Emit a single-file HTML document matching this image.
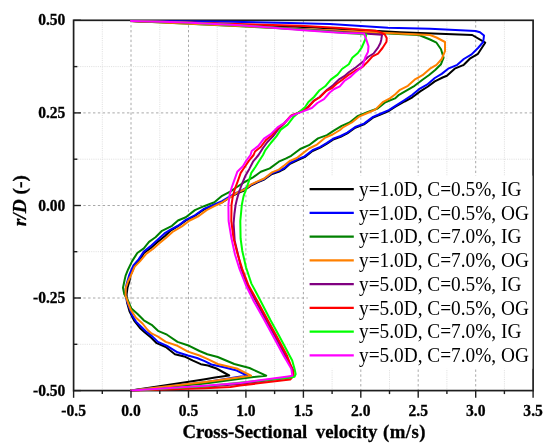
<!DOCTYPE html><html><head><meta charset="utf-8"><title>Cross-Sectional velocity</title>
<style>html,body{margin:0;padding:0;background:#fff}body{width:550px;height:447px;overflow:hidden}svg{display:block}text{font-family:"Liberation Serif",serif;fill:#000}.b{font-weight:bold;stroke:#000;stroke-width:0.3px}</style></head><body>
<svg width="550" height="447" viewBox="0 0 550 447">
<rect width="550" height="447" fill="#fff"/>
<style>.mj{stroke:#a8a8a8;stroke-width:1;stroke-dasharray:2.4 2.45}.mn{stroke:#e0e0e0;stroke-width:1;stroke-dasharray:1.1 1.1}.c{fill:none;stroke-width:2.0;stroke-linejoin:round;stroke-linecap:round}.ax{stroke:#1e1e1e;stroke-width:1.7;fill:none}.tk{stroke:#1e1e1e;stroke-width:1.4}</style>
<g><line x1="131.0" y1="20.3" x2="131.0" y2="390.6" class="mj"/><line x1="188.5" y1="20.3" x2="188.5" y2="390.6" class="mj"/><line x1="245.9" y1="20.3" x2="245.9" y2="390.6" class="mj"/><line x1="303.4" y1="20.3" x2="303.4" y2="390.6" class="mj"/><line x1="360.8" y1="20.3" x2="360.8" y2="390.6" class="mj"/><line x1="418.2" y1="20.3" x2="418.2" y2="390.6" class="mj"/><line x1="475.7" y1="20.3" x2="475.7" y2="390.6" class="mj"/><line x1="102.3" y1="20.3" x2="102.3" y2="390.6" class="mn"/><line x1="159.8" y1="20.3" x2="159.8" y2="390.6" class="mn"/><line x1="217.2" y1="20.3" x2="217.2" y2="390.6" class="mn"/><line x1="274.6" y1="20.3" x2="274.6" y2="390.6" class="mn"/><line x1="332.1" y1="20.3" x2="332.1" y2="390.6" class="mn"/><line x1="389.5" y1="20.3" x2="389.5" y2="390.6" class="mn"/><line x1="446.9" y1="20.3" x2="446.9" y2="390.6" class="mn"/><line x1="504.4" y1="20.3" x2="504.4" y2="390.6" class="mn"/><line x1="73.6" y1="112.9" x2="533.1" y2="112.9" class="mj"/><line x1="73.6" y1="205.5" x2="533.1" y2="205.5" class="mj"/><line x1="73.6" y1="298.0" x2="533.1" y2="298.0" class="mj"/><line x1="73.6" y1="66.6" x2="533.1" y2="66.6" class="mn"/><line x1="73.6" y1="159.2" x2="533.1" y2="159.2" class="mn"/><line x1="73.6" y1="251.7" x2="533.1" y2="251.7" class="mn"/><line x1="73.6" y1="344.3" x2="533.1" y2="344.3" class="mn"/></g>
<rect x="73.6" y="20.3" width="459.5" height="370.3" class="ax"/>
<polyline class="c" stroke="#000000" points="131.0,20.9 310.0,27.3 400.0,32.2 472.2,35.0 485.2,42.7 478.0,53.8 470.3,58.3 463.8,64.8 454.7,68.7 446.9,75.8 442.6,77.5 434.8,81.4 428.0,86.5 420.2,91.4 412.4,97.3 404.6,101.5 395.0,107.0 388.8,111.0 379.8,114.8 373.0,117.7 364.0,124.4 355.2,127.8 347.3,133.4 340.6,136.8 333.8,139.2 327.0,143.7 320.3,147.6 312.5,151.0 304.6,157.2 296.8,160.5 290.0,163.8 284.5,168.8 280.0,171.2 272.0,174.0 264.2,179.5 257.5,182.3 250.8,185.7 244.0,190.5 237.3,193.3 230.6,196.9 222.1,202.3 213.0,205.7 204.0,209.5 195.0,215.8 186.0,220.4 178.0,226.2 170.2,231.0 165.0,236.0 157.0,242.5 150.5,248.3 144.0,253.0 139.5,260.5 134.3,266.3 130.5,275.3 129.5,281.0 127.5,287.8 126.6,294.3 126.9,302.0 129.5,311.2 134.0,320.3 139.9,328.0 144.3,332.0 151.0,337.5 156.7,343.2 165.8,347.0 174.9,354.2 185.3,356.8 193.0,360.7 200.8,364.2 208.0,365.5 216.5,368.5 229.2,375.5 215.0,377.6 205.0,379.3 184.0,382.6 131.0,390.5"/>
<polyline class="c" stroke="#0000ff" points="131.0,20.9 230.0,21.8 290.0,23.0 330.0,24.1 388.0,27.8 430.0,28.8 475.5,31.0 480.0,32.3 484.0,35.6 483.2,42.0 478.0,48.0 471.6,54.4 463.8,59.0 457.3,64.8 448.2,68.7 441.7,73.9 434.8,78.0 427.0,84.7 419.0,89.2 412.4,94.8 404.6,100.0 395.0,106.2 388.8,110.2 379.8,114.0 373.0,116.9 364.0,123.6 355.2,127.0 347.3,132.6 340.6,136.0 333.8,138.4 327.0,142.9 320.3,146.8 312.5,150.2 304.6,156.4 296.8,159.7 290.0,163.0 284.5,168.0 280.0,170.4 272.0,173.3 264.0,179.0 257.5,181.8 250.8,185.0 241.8,190.3 233.0,194.5 230.0,196.3 222.1,201.2 213.0,205.0 204.0,208.8 194.9,215.3 185.8,219.9 178.5,225.5 170.6,229.6 164.5,233.4 156.8,240.6 150.3,246.4 143.8,251.6 138.6,259.4 133.4,265.3 129.5,274.4 126.9,283.0 125.6,289.0 125.4,295.0 127.5,303.0 132.0,315.0 136.0,321.6 141.2,326.8 146.0,331.5 151.5,335.6 158.0,341.9 167.0,345.8 177.5,352.3 187.9,355.5 197.0,358.0 204.7,361.2 211.4,364.5 224.0,367.3 236.8,370.5 247.0,375.5 205.0,382.2 131.0,390.5"/>
<polyline class="c" stroke="#008000" points="131.0,20.9 419.0,35.0 430.0,39.5 436.5,42.7 441.0,49.2 443.6,57.7 441.0,64.2 435.2,70.0 428.8,75.3 422.5,79.7 414.6,85.8 406.8,90.3 399.0,94.8 395.0,98.4 385.4,102.3 377.6,108.5 368.6,111.8 357.4,116.3 349.6,122.5 341.7,125.8 333.8,130.6 327.0,135.1 318.0,138.4 309.0,145.2 300.2,149.0 291.2,155.8 285.6,158.6 278.8,161.7 269.8,168.4 260.8,171.8 253.0,177.4 244.0,182.4 236.2,187.5 230.6,191.4 222.1,195.8 214.4,202.3 204.0,206.2 194.9,210.1 185.8,217.3 178.0,220.5 172.0,225.8 162.0,230.8 155.5,237.3 149.0,241.9 143.8,248.4 137.3,253.0 132.0,261.4 128.2,269.2 125.6,275.6 124.6,280.0 123.0,287.8 124.3,294.3 127.5,299.5 131.4,308.6 137.3,313.8 143.8,320.3 151.6,324.8 158.0,330.8 167.0,334.7 177.5,341.9 189.2,345.8 199.5,351.0 207.3,354.2 217.7,357.0 234.3,364.0 249.5,368.0 266.2,375.7 249.5,377.6 205.0,383.4 131.0,390.5"/>
<polyline class="c" stroke="#ff8000" points="131.0,20.9 430.0,35.0 436.5,37.5 445.0,42.0 445.0,51.2 441.7,59.0 436.5,64.8 430.0,68.7 422.5,75.2 414.6,79.7 407.9,85.8 400.0,89.8 395.0,94.5 389.9,98.4 383.2,101.8 375.3,109.6 367.5,113.0 359.6,116.3 351.8,122.5 342.8,127.5 340.0,130.0 332.6,134.5 324.8,137.9 317.0,144.6 309.0,148.5 302.4,153.6 296.8,158.0 290.0,160.8 284.5,165.3 278.8,169.6 272.0,172.4 264.2,178.5 257.5,181.3 250.8,184.7 244.0,189.7 237.3,192.5 230.6,197.0 225.0,200.5 222.1,202.5 214.4,206.2 206.6,210.1 198.8,216.0 189.7,220.5 181.9,226.4 172.5,232.0 165.8,238.0 159.4,243.2 152.9,249.0 146.4,253.6 139.9,261.4 134.7,266.6 130.8,275.6 128.0,281.5 125.8,287.8 125.6,295.6 128.2,303.4 130.8,309.9 136.0,317.7 142.5,323.5 147.7,330.0 151.5,333.4 158.0,336.7 165.8,341.9 177.5,345.8 187.9,351.6 199.5,355.5 207.3,358.8 217.7,364.0 236.8,368.5 251.0,375.7 205.0,382.0 131.0,390.5"/>
<polyline class="c" stroke="#800080" points="131.0,20.9 180.0,22.1 240.0,25.0 320.0,30.5 382.0,34.8 381.2,40.0 380.4,43.0 378.0,47.6 373.6,53.5 368.0,57.0 364.0,60.8 356.0,67.2 348.8,72.3 344.3,76.2 338.7,79.6 333.0,85.2 326.4,90.4 319.6,97.0 314.0,100.5 308.4,106.5 305.0,109.5 297.6,113.2 291.0,116.0 284.5,123.2 278.6,129.0 273.0,136.4 267.4,142.0 263.0,148.0 258.5,155.0 253.0,161.7 249.6,168.4 245.7,175.2 242.4,183.0 239.0,192.0 236.8,199.8 235.6,205.0 234.4,214.0 233.6,223.3 234.7,240.7 238.4,256.0 241.3,269.0 247.5,285.5 255.5,300.5 266.0,320.0 274.8,336.0 285.5,356.0 289.8,364.0 293.2,370.0 293.5,375.0 291.0,377.5 240.0,384.0 205.0,386.8 131.0,390.5"/>
<polyline class="c" stroke="#ff0000" points="131.0,20.9 300.0,25.8 340.0,28.1 375.5,30.8 379.5,31.9 384.8,34.5 386.7,38.0 386.5,41.8 382.5,48.0 378.0,53.6 372.5,56.4 367.4,62.0 362.4,67.0 355.5,70.5 348.5,75.0 342.0,80.0 336.4,84.0 332.0,88.0 326.4,90.8 319.6,97.5 314.0,100.9 308.4,107.0 305.0,109.5 298.0,113.0 291.0,115.6 284.5,123.0 277.5,128.5 271.9,135.2 266.3,139.7 260.7,147.0 255.0,151.5 253.6,155.0 249.0,160.6 245.2,166.2 240.7,172.9 237.9,180.8 235.0,188.6 232.8,196.4 231.5,205.0 231.3,221.0 233.6,238.5 237.7,254.5 242.3,269.0 248.6,285.5 256.8,300.0 267.7,320.0 276.5,336.0 287.2,356.0 291.8,368.0 293.3,374.0 293.0,376.4 290.2,379.6 283.6,380.2 240.0,385.6 230.5,387.0 205.0,388.3 131.0,390.5"/>
<polyline class="c" stroke="#00ff00" points="131.0,20.9 180.0,22.2 240.0,25.2 320.0,31.0 366.3,34.5 365.2,39.5 361.8,47.4 357.9,53.0 352.3,57.8 348.8,64.3 342.0,69.0 337.6,74.6 330.8,79.6 325.2,86.3 319.6,90.2 314.0,97.0 308.4,102.0 305.0,107.2 298.8,112.3 293.2,117.3 287.6,124.6 280.8,129.6 276.4,136.4 270.8,143.0 265.2,150.4 263.0,155.0 258.6,161.7 255.2,167.3 251.3,172.9 249.0,180.8 246.3,188.6 243.5,196.4 241.8,205.0 240.3,221.0 240.6,238.5 242.3,251.0 246.0,267.3 251.4,283.6 259.2,298.2 270.4,320.0 279.2,336.0 289.8,356.0 292.2,360.5 294.5,368.7 295.7,374.2 294.5,376.8 292.0,377.3 205.0,386.3 131.0,390.5"/>
<polyline class="c" stroke="#ff00ff" points="131.0,20.9 180.0,22.2 240.0,25.2 300.0,30.1 343.0,32.9 364.0,33.5 366.3,39.5 368.5,46.3 368.0,51.9 365.2,57.5 362.4,66.4 355.0,72.6 350.0,77.2 344.3,81.0 339.8,86.3 334.2,89.0 329.7,92.5 324.0,99.2 317.4,103.0 311.8,108.0 305.0,110.6 297.6,113.4 291.0,116.2 284.2,123.0 277.5,127.4 270.8,134.1 264.0,138.6 258.4,145.9 251.7,151.0 250.5,155.0 246.3,160.6 242.9,166.2 237.3,171.8 234.5,179.6 231.7,187.5 229.5,195.3 228.4,205.0 228.6,221.0 231.5,238.5 235.0,254.5 239.5,269.0 246.0,285.5 254.0,301.8 264.3,320.0 273.0,336.0 283.8,356.0 286.5,360.5 291.3,368.7 292.4,375.8 288.0,376.4 240.0,383.0 205.0,385.7 131.0,390.5"/>
<rect x="307.8" y="175.6" width="224.5" height="193.2" fill="#fff"/>
<line x1="309.6" y1="189.2" x2="353.8" y2="189.2" stroke="#000000" stroke-width="2.3"/>
<text transform="translate(359,195.9) scale(0.971,1)" font-size="19.9">y=1.0D, C=0.5%, IG</text>
<line x1="309.6" y1="212.9" x2="353.8" y2="212.9" stroke="#0000ff" stroke-width="2.3"/>
<text transform="translate(359,219.6) scale(0.971,1)" font-size="19.9">y=1.0D, C=0.5%, OG</text>
<line x1="309.6" y1="236.7" x2="353.8" y2="236.7" stroke="#008000" stroke-width="2.3"/>
<text transform="translate(359,243.4) scale(0.971,1)" font-size="19.9">y=1.0D, C=7.0%, IG</text>
<line x1="309.6" y1="260.4" x2="353.8" y2="260.4" stroke="#ff8000" stroke-width="2.3"/>
<text transform="translate(359,267.1) scale(0.971,1)" font-size="19.9">y=1.0D, C=7.0%, OG</text>
<line x1="309.6" y1="284.1" x2="353.8" y2="284.1" stroke="#800080" stroke-width="2.3"/>
<text transform="translate(359,290.8) scale(0.971,1)" font-size="19.9">y=5.0D, C=0.5%, IG</text>
<line x1="309.6" y1="307.9" x2="353.8" y2="307.9" stroke="#ff0000" stroke-width="2.3"/>
<text transform="translate(359,314.6) scale(0.971,1)" font-size="19.9">y=5.0D, C=0.5%, OG</text>
<line x1="309.6" y1="331.6" x2="353.8" y2="331.6" stroke="#00ff00" stroke-width="2.3"/>
<text transform="translate(359,338.3) scale(0.971,1)" font-size="19.9">y=5.0D, C=7.0%, IG</text>
<line x1="309.6" y1="355.3" x2="353.8" y2="355.3" stroke="#ff00ff" stroke-width="2.3"/>
<text transform="translate(359,362.0) scale(0.971,1)" font-size="19.9">y=5.0D, C=7.0%, OG</text>
<g><line x1="73.6" y1="390.6" x2="73.6" y2="397.8" class="tk"/><text class="b" transform="translate(73.6,415.8) scale(0.95,1)" font-size="16.4" text-anchor="middle">-0.5</text><line x1="131.0" y1="390.6" x2="131.0" y2="397.8" class="tk"/><text class="b" transform="translate(131.0,415.8) scale(0.95,1)" font-size="16.4" text-anchor="middle">0.0</text><line x1="188.5" y1="390.6" x2="188.5" y2="397.8" class="tk"/><text class="b" transform="translate(188.5,415.8) scale(0.95,1)" font-size="16.4" text-anchor="middle">0.5</text><line x1="245.9" y1="390.6" x2="245.9" y2="397.8" class="tk"/><text class="b" transform="translate(245.9,415.8) scale(0.95,1)" font-size="16.4" text-anchor="middle">1.0</text><line x1="303.4" y1="390.6" x2="303.4" y2="397.8" class="tk"/><text class="b" transform="translate(303.4,415.8) scale(0.95,1)" font-size="16.4" text-anchor="middle">1.5</text><line x1="360.8" y1="390.6" x2="360.8" y2="397.8" class="tk"/><text class="b" transform="translate(360.8,415.8) scale(0.95,1)" font-size="16.4" text-anchor="middle">2.0</text><line x1="418.2" y1="390.6" x2="418.2" y2="397.8" class="tk"/><text class="b" transform="translate(418.2,415.8) scale(0.95,1)" font-size="16.4" text-anchor="middle">2.5</text><line x1="475.7" y1="390.6" x2="475.7" y2="397.8" class="tk"/><text class="b" transform="translate(475.7,415.8) scale(0.95,1)" font-size="16.4" text-anchor="middle">3.0</text><line x1="533.1" y1="390.6" x2="533.1" y2="397.8" class="tk"/><text class="b" transform="translate(533.1,415.8) scale(0.95,1)" font-size="16.4" text-anchor="middle">3.5</text><line x1="102.3" y1="390.6" x2="102.3" y2="394.1" class="tk"/><line x1="159.8" y1="390.6" x2="159.8" y2="394.1" class="tk"/><line x1="217.2" y1="390.6" x2="217.2" y2="394.1" class="tk"/><line x1="274.6" y1="390.6" x2="274.6" y2="394.1" class="tk"/><line x1="332.1" y1="390.6" x2="332.1" y2="394.1" class="tk"/><line x1="389.5" y1="390.6" x2="389.5" y2="394.1" class="tk"/><line x1="446.9" y1="390.6" x2="446.9" y2="394.1" class="tk"/><line x1="504.4" y1="390.6" x2="504.4" y2="394.1" class="tk"/><line x1="73.6" y1="20.3" x2="80.89999999999999" y2="20.3" class="tk"/><text class="b" transform="translate(65.4,25.4) scale(0.95,1)" font-size="16.4" text-anchor="end">0.50</text><line x1="73.6" y1="112.9" x2="80.89999999999999" y2="112.9" class="tk"/><text class="b" transform="translate(65.4,118.0) scale(0.95,1)" font-size="16.4" text-anchor="end">0.25</text><line x1="73.6" y1="205.5" x2="80.89999999999999" y2="205.5" class="tk"/><text class="b" transform="translate(65.4,210.6) scale(0.95,1)" font-size="16.4" text-anchor="end">0.00</text><line x1="73.6" y1="298.0" x2="80.89999999999999" y2="298.0" class="tk"/><text class="b" transform="translate(65.4,303.1) scale(0.95,1)" font-size="16.4" text-anchor="end">-0.25</text><line x1="73.6" y1="390.6" x2="80.89999999999999" y2="390.6" class="tk"/><text class="b" transform="translate(65.4,395.7) scale(0.95,1)" font-size="16.4" text-anchor="end">-0.50</text><line x1="73.6" y1="66.6" x2="77.39999999999999" y2="66.6" class="tk"/><line x1="73.6" y1="159.2" x2="77.39999999999999" y2="159.2" class="tk"/><line x1="73.6" y1="251.7" x2="77.39999999999999" y2="251.7" class="tk"/><line x1="73.6" y1="344.3" x2="77.39999999999999" y2="344.3" class="tk"/></g>
<text class="b" x="182.4" y="437.6" font-size="18.8" word-spacing="3.8">Cross-Sectional velocity <tspan dx="-2.8" letter-spacing="0.45">(m/s)</tspan></text>
<text class="b" transform="translate(26.2,200.6) rotate(-90)" font-size="19.4" text-anchor="middle"><tspan font-style="italic">r/D</tspan> (-)</text>
</svg></body></html>
